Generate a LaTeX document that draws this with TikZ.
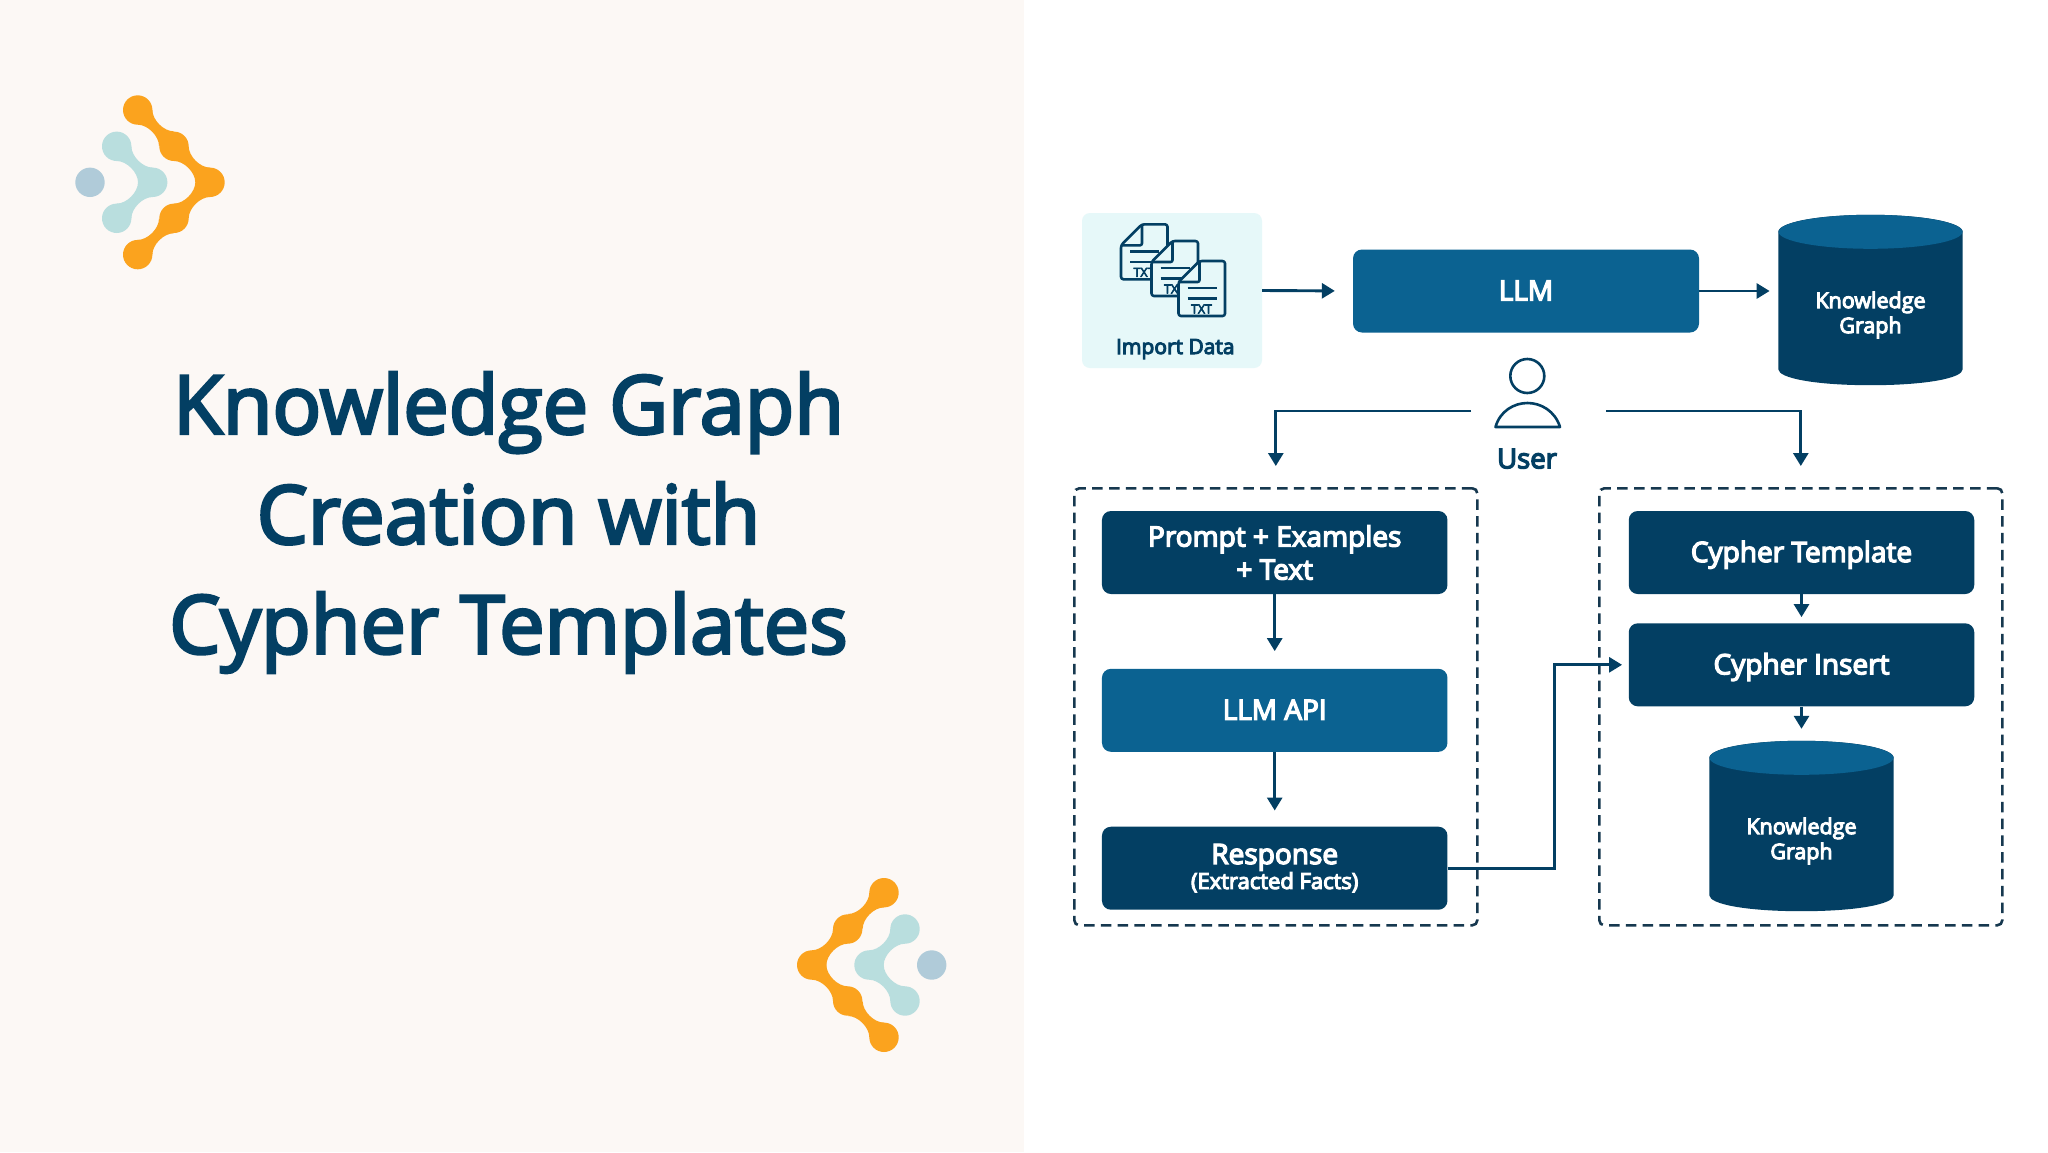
\documentclass[tikz,border=0pt]{standalone}
\usepackage{fontspec}
\setmainfont{Open Sans}[FakeBold=3.5]
\newfontfamily\labelfont{Open Sans}[FakeBold=4.8]
\usetikzlibrary{arrows.meta,calc,positioning}
\definecolor{inkdark}{HTML}{033F63}
\definecolor{inklight}{HTML}{0B6291}
\definecolor{panelbg}{HTML}{FCF8F5}
\definecolor{importbg}{HTML}{E6F8F9}
\definecolor{dashink}{HTML}{16384F}
\definecolor{logoorange}{HTML}{FBA31E}
\definecolor{logoteal}{HTML}{B9DEDE}
\definecolor{logoblue}{HTML}{B0CBD9}
\newcommand{\fs}[2]{\fontsize{#1}{#2}\selectfont}
% neck between two diagonal blobs: start (ax,ay), direction (sx,sy), step 36, radius 14.7
\newcommand{\logoneck}[4]{%
  \fill ({#1+#3*14.7},{#2}) .. controls ({#1+#3*14.7},{#2+#4*10}) and ({#1+#3*26},{#2+#4*21.3}) .. ({#1+#3*36},{#2+#4*21.3})
    -- ({#1+#3*21.3},{#2+#4*36}) .. controls ({#1+#3*21.3},{#2+#4*26}) and ({#1+#3*10},{#2+#4*14.7}) .. ({#1},{#2+#4*14.7}) -- cycle;}
\newcommand{\logomark}{%
  \begin{scope}[logoorange]
    \foreach \px/\py in {-72.3/-72.3,-36/-36,0/0,-36/36,-72.3/72.3} \fill (\px,\py) circle (14.7);
    \logoneck{-72.3}{-72.3}{1}{1}
    \logoneck{-36}{-36}{1}{1}
    \logoneck{-36}{36}{1}{-1}
    \logoneck{-72.3}{72.3}{1}{-1}
  \end{scope}
  \begin{scope}[logoteal]
    \foreach \px/\py in {-93.3/-36,-57.3/0,-93.3/36} \fill (\px,\py) circle (14.7);
    \logoneck{-93.3}{-36}{1}{1}
    \logoneck{-93.3}{36}{1}{-1}
  \end{scope}
  \fill[logoblue] (-120,0) circle (14.7);}
\newcommand{\txtfile}[3]{%
  \begin{scope}[shift={(#1,#2)},filestroke]
    \draw[fill=importbg,rounded corners=2.5pt] (21,0) -- (46.5,0) -- (46.5,55) -- (0,55) -- (0,21) -- cycle;
    \draw[rounded corners=2pt] (21,0) -- (21,21) -- (0,21);
    \draw (9,27) -- (38,27) (9,37.5) -- (38,37.5);
    \node[inner sep=0pt,text=inkdark,font=\labelfont\fs{12.5}{13}] (#3) at (23,48) {TXT};
  \end{scope}}
\tikzset{
  flow/.style={draw=inkdark,line width=2.9pt,-{Triangle[length=13pt,width=15pt]}},
  filestroke/.style={draw=inkdark,line width=2.6pt,line join=round},
  boxnode/.style={rounded corners=9pt,minimum width=345.5pt,minimum height=83pt,inner sep=0pt,
    align=center,text=white,font=\labelfont\fs{28}{33}},
  oneline/.style={text height=19pt,text depth=0pt},
  darkbox/.style={boxnode,fill=inkdark},
  lightbox/.style={boxnode,fill=inklight},
  dashbox/.style={draw=dashink,line width=2.6pt,dash pattern=on 10.5pt off 6.3pt,rounded corners=5pt,
    minimum width=403pt,minimum height=437pt,inner sep=0pt},
  cyl/.style={minimum width=184pt,minimum height=170pt,inner sep=0pt,align=center,text=white,font=\labelfont\fs{21.5}{25}},
  titleline/.style={anchor=base,text=inkdark,font=\fs{81}{110},inner sep=0pt},
}
\newcommand{\drawcyl}[1]{%
  \fill[inkdark] ($(#1.north west)+(0,17)$) .. controls ($(#1.north west)+(0,8)$) and ($(#1.north)+(-55,0)$) .. (#1.north)
     .. controls ($(#1.north)+(55,0)$) and ($(#1.north east)+(0,8)$) .. ($(#1.north east)+(0,17)$)
     -- ($(#1.south east)+(0,-16)$) .. controls ($(#1.south east)+(0,-7)$) and ($(#1.south)+(55,0)$) .. (#1.south)
     .. controls ($(#1.south)+(-55,0)$) and ($(#1.south west)+(0,-7)$) .. ($(#1.south west)+(0,-16)$) -- cycle;
  \fill[inklight] ($(#1.north)+(0,17)$) ellipse [x radius=92,y radius=17];}
\begin{document}
\begin{tikzpicture}[x=1pt,y=-1pt]
\useasboundingbox (0,0) rectangle (2048,1152);
\fill[white] (0,0) rectangle (2048,1152);
\fill[panelbg] (0,0) rectangle (1024,1152);
% logos
\begin{scope}[shift={(210,182.3)}]\logomark\end{scope}
\begin{scope}[shift={(811.7,965)},xscale=-1]\logomark\end{scope}
% title
\node[titleline] (t1) at (508.5,433.7) {Knowledge Graph};
\node[titleline] (t2) at (508.5,543.7) {Creation with};
\node[titleline] (t3) at (508.5,653.5) {Cypher Templates};
% import
\node[fill=importbg,rounded corners=8pt,minimum width=180pt,minimum height=155pt,inner sep=0pt] (imp) at (1172,290.5) {};
\txtfile{1121}{224.3}{fa}
\txtfile{1151.5}{241}{fb}
\txtfile{1178.5}{261}{fc}
\node[anchor=base,text=inkdark,font=\labelfont\fs{21}{24},inner sep=0pt] (implabel) at (1175.3,354) {Import Data};
% top row
\node[lightbox,oneline,minimum width=346pt] (llm) at (1526,291) {LLM};
\node[cyl] (kga) at (1870.5,300) {};
\drawcyl{kga}
\node[cyl,minimum height=0pt] at ($(kga)+(0,15)$) (kgat) {Knowledge\\Graph};
% user
\node[draw=inkdark,line width=2.6pt,circle,minimum size=34pt,inner sep=0pt] (head) at (1527.3,376) {};
\draw[draw=inkdark,line width=2.6pt,line join=round] (1495.5,427) .. controls (1500,411) and (1514,403) .. (1527.5,403) .. controls (1541,403) and (1555,411) .. (1560,427) -- cycle;
\node[anchor=base,text=inkdark,font=\labelfont\fs{27.5}{32},inner sep=0pt] (user) at (1527,468.3) {User};
\coordinate (ul) at (1471,411);
\coordinate (ur) at (1606,411);
% dashed groups
\node[dashbox] (gl) at (1275.8,706.8) {};
\node[dashbox] (gr) at (1800.8,706.8) {};
% left stack
\node[darkbox] (prompt) at (1274.7,552.5) {Prompt + Examples\\+ Text};
\node[lightbox,oneline] (api) at (1274.7,710.3) {LLM API};
\node[darkbox] (resp) at (1274.7,868.2) {Response\\[-8pt]{\fs{22}{24}(Extracted Facts)}};
% right stack
\node[darkbox,oneline] (tmpl) at (1801.5,552.5) {Cypher Template};
\node[darkbox,oneline] (ins) at (1801.5,664.8) {Cypher Insert};
\node[cyl,minimum height=170pt] (kgb) at (1801.5,826) {};
\drawcyl{kgb}
\node[cyl,minimum height=0pt] at ($(kgb)+(0,15)$) (kgbt) {Knowledge\\Graph};
% connectors
\draw[flow,shorten >=18pt] (imp.east) -- (llm.west);
\draw[flow,shorten >=8.7pt] (llm.east) -- (llm.east -| kga.west);
\draw[flow,shorten >=21pt] (ul) -| (gl.north);
\draw[flow,shorten >=21pt] (ur) -| (gr.north);
\draw[flow,shorten >=17.5pt] (prompt.south) -- (api.north);
\draw[flow,shorten >=16pt] (api.south) -- (resp.north);
\draw[flow,shorten >=6pt] (tmpl.south) -- (ins.north);
\draw[flow,shorten >=12pt] (ins.south) -- (kgb.north);
\coordinate (mid) at (1554.5,765);
\draw[flow,shorten >=6.5pt] (resp.east) -| (mid) |- (ins.west);
\end{tikzpicture}
\end{document}
